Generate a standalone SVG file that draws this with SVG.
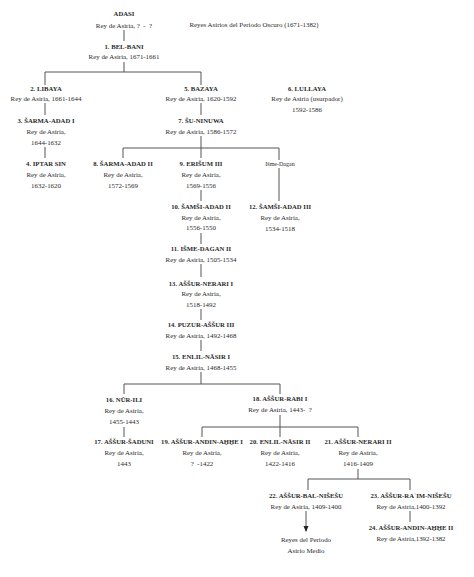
<svg xmlns="http://www.w3.org/2000/svg" width="474" height="577" viewBox="0 0 474 577">
<style>
text{font-family:"Liberation Serif","DejaVu Serif",serif;fill:#2a2a2a;text-anchor:middle}
.n{font-size:6.7px;font-weight:bold}
.t{font-size:6.9px}
.p{white-space:pre}
.c line,.c path{stroke:#555;stroke-width:1;fill:none}
</style>
<defs>
<marker id="ah" markerWidth="6" markerHeight="6" refX="5" refY="3" orient="auto" markerUnits="userSpaceOnUse">
<path d="M0,0.5 L6,3 L0,5.5 z" fill="#222"/>
</marker>
</defs>
<rect width="474" height="577" fill="#fff"/>
<g class="c" id="connectors">
<line x1="124" y1="30" x2="124" y2="41"/>
<path d="M124,62 V72 M45,85 V72 H201 V85"/>
<line x1="45" y1="103" x2="45" y2="115"/>
<line x1="201" y1="103" x2="201" y2="115"/>
<line x1="45" y1="147" x2="45" y2="158"/>
<path d="M201,136 V148 M123,158 V148 H279 V160 M279,168 V201 M201,148 V158"/>
<line x1="201" y1="190" x2="201" y2="201"/>
<line x1="201" y1="233" x2="201" y2="244"/>
<line x1="201" y1="264" x2="201" y2="277"/>
<line x1="201" y1="309" x2="201" y2="320"/>
<line x1="201" y1="340" x2="201" y2="351"/>
<path d="M201,372 V384 M124,394 V384 H280 V394"/>
<line x1="124" y1="427" x2="124" y2="437"/>
<path d="M280,415 V427 M202,437 V427 H358 V437 M280,427 V437"/>
<path d="M358,469 V479 M308,490 V479 H410 V490"/>
<line x1="306" y1="511" x2="306" y2="531" marker-end="url(#ah)"/>
<line x1="410" y1="511" x2="410" y2="522"/>
</g>
<g id="title"><text class="t" x="254" y="27">Reyes Asirios del Periodo Oscuro (1671-1382)</text></g>
<g id="adasi"><text class="n" x="124" y="16">ADASI</text><text class="t p" x="124" y="28">Rey de Asiria, ?  -  ?</text></g>
<g id="n1"><text class="n" x="124" y="49">1. BEL-BANI</text><text class="t" x="124" y="59">Rey de Asiria, 1671-1661</text></g>
<g id="n2"><text class="n" x="46" y="91">2. LIBAYA</text><text class="t" x="46" y="101">Rey de Asiria, 1661-1644</text></g>
<g id="n5"><text class="n" x="201" y="91">5. BAZAYA</text><text class="t" x="201" y="101">Rey de Asiria, 1620-1592</text></g>
<g id="n6"><text class="n" x="307" y="91">6. LULLAYA</text><text class="t" x="307" y="101">Rey de Asiria (usurpador)</text><text class="t" x="307" y="112">1592-1586</text></g>
<g id="n3"><text class="n" x="46" y="123">3. ŠARMA-ADAD I</text><text class="t" x="46" y="134">Rey de Asiria,</text><text class="t" x="46" y="145">1644-1632</text></g>
<g id="n7"><text class="n" x="201" y="123">7. ŠU-NINUWA</text><text class="t" x="201" y="134">Rey de Asiria, 1586-1572</text></g>
<g id="n4"><text class="n" x="46" y="166">4. IPTAR SIN</text><text class="t" x="46" y="177">Rey de Asiria,</text><text class="t" x="46" y="188">1632-1620</text></g>
<g id="n8"><text class="n" x="123" y="166">8. ŠARMA-ADAD II</text><text class="t" x="123" y="177">Rey de Asiria,</text><text class="t" x="123" y="188">1572-1569</text></g>
<g id="n9"><text class="n" x="201" y="166">9. ERIŠUM III</text><text class="t" x="201" y="177">Rey de Asiria,</text><text class="t" x="201" y="188">1569-1556</text></g>
<g id="ilme"><text class="t" x="280" y="166" style="font-size:6px">Išme-Dagan</text></g>
<g id="n10"><text class="n" x="201" y="209">10. ŠAMŠI-ADAD II</text><text class="t" x="201" y="220">Rey de Asiria,</text><text class="t" x="201" y="230">1556-1550</text></g>
<g id="n12"><text class="n" x="280" y="209">12. ŠAMŠI-ADAD III</text><text class="t" x="280" y="220">Rey de Asiria,</text><text class="t" x="280" y="231">1534-1518</text></g>
<g id="n11"><text class="n" x="201" y="251">11. IŠME-DAGAN II</text><text class="t" x="201" y="262">Rey de Asiria, 1505-1534</text></g>
<g id="n13"><text class="n" x="201" y="286">13. AŠŠUR-NERARI I</text><text class="t" x="201" y="296">Rey de Asiria,</text><text class="t" x="201" y="307">1518-1492</text></g>
<g id="n14"><text class="n" x="201" y="327">14. PUZUR-AŠŠUR III</text><text class="t" x="201" y="338">Rey de Asiria, 1492-1468</text></g>
<g id="n15"><text class="n" x="201" y="359">15. ENLIL-NĀSIR I</text><text class="t" x="201" y="370">Rey de Asiria, 1468-1455</text></g>
<g id="n16"><text class="n" x="124" y="402">16. NŪR-ILI</text><text class="t" x="124" y="413">Rey de Asiria,</text><text class="t" x="124" y="424">1455-1443</text></g>
<g id="n18"><text class="n" x="280" y="401">18. AŠŠUR-RABI I</text><text class="t p" x="280" y="412">Rey de Asiria, 1443-  ?</text></g>
<g id="n17"><text class="n" x="124" y="444">17. AŠŠUR-ŠADUNI</text><text class="t" x="124" y="455">Rey de Asiria,</text><text class="t" x="124" y="466">1443</text></g>
<g id="n19"><text class="n" x="202" y="444">19. AŠŠUR-ANDIN-AḪḪE I</text><text class="t" x="202" y="455">Rey de Asiria,</text><text class="t p" x="202" y="466">?  -1422</text></g>
<g id="n20"><text class="n" x="280" y="444">20. ENLIL-NĀSIR II</text><text class="t" x="280" y="455">Rey de Asiria,</text><text class="t" x="280" y="466">1422-1416</text></g>
<g id="n21"><text class="n" x="358" y="444">21. AŠŠUR-NERARI II</text><text class="t" x="358" y="455">Rey de Asiria,</text><text class="t" x="358" y="466">1416-1409</text></g>
<g id="n22"><text class="n" x="306" y="498">22. AŠŠUR-BAL-NIŠEŠU</text><text class="t" x="306" y="509">Rey de Asiria, 1409-1400</text></g>
<g id="n23"><text class="n" x="411" y="498">23. AŠŠUR-RAʾIM-NIŠEŠU</text><text class="t" x="411" y="509">Rey de Asiria,1400-1392</text></g>
<g id="n24"><text class="n" x="411" y="530">24. AŠŠUR-ANDIN-AḪḪE II</text><text class="t" x="411" y="541">Rey de Asiria,1392-1382</text></g>
<g id="medio"><text class="t" x="306" y="542">Reyes del Periodo</text><text class="t" x="306" y="553">Asirio Medio</text></g>
</svg>
